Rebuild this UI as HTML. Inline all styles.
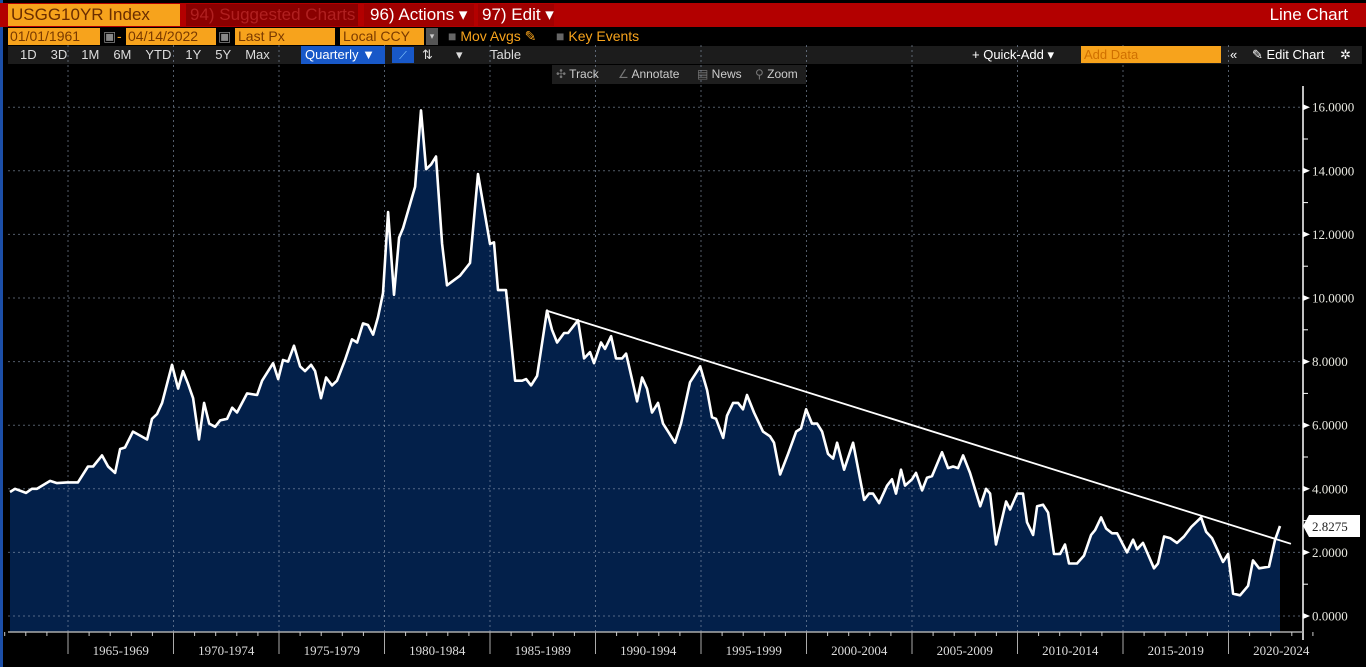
<!DOCTYPE html>
<html><head><meta charset="utf-8">
<style>
*{margin:0;padding:0;box-sizing:border-box}
body{width:1366px;height:667px;background:#000;overflow:hidden;font-family:"Liberation Sans",sans-serif;position:relative}
.abs{position:absolute;white-space:nowrap}
.bar1{left:0;top:3px;width:1366px;height:24px;background:#b30000}
.org{background:#f7a31c;color:#7a3a00}
.t1{font-size:17px;line-height:22px;color:#fff}
.t2{font-size:14px;line-height:17px}
.t3{font-size:13px;line-height:18px;color:#ddd}
</style></head><body>
<div class="abs" style="left:0;top:0;width:3px;height:667px;background:#1c4fa8"></div>
<div class="abs bar1"></div>
<div class="abs org t1" style="left:8px;top:4px;width:172px;height:22px;padding-left:3px;color:#6b2d00">USGG10YR Index</div>
<div class="abs t1" style="left:186px;top:4px;width:172px;height:22px;background:#8a0000;color:#b02020;padding-left:4px">94) Suggested Charts</div>
<div class="abs t1" style="left:364px;top:4px;width:110px;height:22px;background:#a00000;padding-left:6px">96) Actions ▾</div>
<div class="abs t1" style="left:478px;top:4px;width:76px;height:22px;background:#a00000;padding-left:4px">97) Edit ▾</div>
<div class="abs t1" style="right:18px;top:4px">Line Chart</div>

<div class="abs org t2" style="left:8px;top:28px;width:92px;height:17px;padding-left:2px">01/01/1961</div>
<div class="abs t2" style="left:103px;top:28px;color:#888">▣</div>
<div class="abs t2" style="left:117px;top:28px;color:#f7a31c">-</div>
<div class="abs org t2" style="left:126px;top:28px;width:90px;height:17px;padding-left:2px">04/14/2022</div>
<div class="abs t2" style="left:218px;top:28px;color:#888">▣</div>
<div class="abs org t2" style="left:235px;top:28px;width:100px;height:17px;padding-left:3px">Last Px</div>
<div class="abs org t2" style="left:340px;top:28px;width:84px;height:17px;padding-left:3px">Local CCY</div>
<div class="abs t2" style="left:426px;top:28px;width:12px;height:17px;background:#555;color:#ccc;font-size:9px;text-align:center">▾</div>
<div class="abs t2" style="left:448px;top:28px;color:#f7a31c"><span style="color:#666">■</span> Mov Avgs ✎</div>
<div class="abs t2" style="left:556px;top:28px;color:#f7a31c"><span style="color:#666">■</span> Key Events</div>

<div class="abs" style="left:8px;top:46px;width:1354px;height:18px;background:#1c1c1c"></div>
<div class="abs t3" style="left:20px;top:46px;word-spacing:0">
<span style="margin-right:14px">1D</span><span style="margin-right:14px">3D</span><span style="margin-right:14px">1M</span><span style="margin-right:14px">6M</span><span style="margin-right:14px">YTD</span><span style="margin-right:14px">1Y</span><span style="margin-right:14px">5Y</span><span>Max</span></div>
<div class="abs t3" style="left:301px;top:46px;width:84px;height:18px;background:#1858c8;color:#fff;padding-left:4px">Quarterly ▼</div>
<div class="abs t3" style="left:392px;top:47px;width:22px;height:16px;background:#1858c8;color:#8cf;text-align:center;font-size:11px">⟋</div>
<div class="abs t3" style="left:422px;top:46px">⇅</div>
<div class="abs t3" style="left:456px;top:46px">▾</div>
<div class="abs t3" style="left:490px;top:46px">Table</div>
<div class="abs t3" style="left:972px;top:46px;color:#fff">+ Quick-Add ▾</div>
<div class="abs t3" style="left:1081px;top:46px;width:140px;height:17px;background:#f7a31c;color:#d07000;padding-left:3px">Add Data</div>
<div class="abs t3" style="left:1230px;top:46px;color:#fff">«</div>
<div class="abs t3" style="left:1252px;top:46px;color:#fff">✎ Edit Chart</div>
<div class="abs t3" style="left:1340px;top:46px;color:#fff">✲</div>

<div class="abs" style="left:552px;top:65px;width:254px;height:19px;background:#1e1e1e"></div>
<div class="abs" style="left:556px;top:66px;font-size:12px;color:#ccc;line-height:17px"><span style="color:#777">✣</span> Track</div>
<div class="abs" style="left:618px;top:66px;font-size:12px;color:#ccc;line-height:17px"><span style="color:#777">∠</span> Annotate</div>
<div class="abs" style="left:697px;top:66px;font-size:12px;color:#ccc;line-height:17px"><span style="color:#777">▤</span> News</div>
<div class="abs" style="left:755px;top:66px;font-size:12px;color:#ccc;line-height:17px"><span style="color:#777">⚲</span> Zoom</div>

<svg class="abs" id="chart" style="left:0;top:0" width="1366" height="667"></svg>

<script>
const years=[1962.25,1962.49,1963.01,1963.29,1963.53,1964.15,1964.48,1964.95,1965.47,1965.95,1966.19,1966.61,1966.90,1967.23,1967.47,1967.70,1968.08,1968.75,1968.98,1969.22,1969.46,1969.93,1970.22,1970.45,1970.69,1970.93,1971.21,1971.45,1971.69,1971.97,1972.21,1972.54,1972.78,1973.01,1973.49,1973.96,1974.20,1974.72,1974.96,1975.19,1975.43,1975.71,1976.00,1976.23,1976.52,1976.71,1976.99,1977.23,1977.51,1977.75,1978.13,1978.46,1978.70,1978.98,1979.22,1979.46,1979.69,1979.93,1980.17,1980.45,1980.69,1980.88,1981.45,1981.73,1981.97,1982.21,1982.44,1982.73,1982.96,1983.58,1984.05,1984.43,1984.77,1985.00,1985.19,1985.38,1985.62,1985.76,1986.19,1986.52,1986.71,1986.95,1987.23,1987.70,1987.94,1988.18,1988.51,1988.70,1989.17,1989.46,1989.74,1989.93,1990.26,1990.45,1990.74,1990.97,1991.26,1991.45,1991.97,1992.21,1992.44,1992.68,1992.96,1993.20,1993.44,1993.77,1994.05,1994.48,1994.96,1995.29,1995.52,1995.71,1996.05,1996.23,1996.52,1996.76,1996.99,1997.18,1997.51,1997.94,1998.27,1998.46,1998.75,1999.13,1999.51,1999.74,1999.98,2000.26,2000.50,2000.74,2001.02,2001.26,2001.45,2001.78,2002.21,2002.73,2002.96,2003.15,2003.44,2003.82,2004.05,2004.24,2004.48,2004.67,2005.00,2005.19,2005.48,2005.71,2005.95,2006.42,2006.71,2006.95,2007.18,2007.42,2007.75,2008.23,2008.51,2008.70,2008.98,2009.46,2009.65,2009.98,2010.26,2010.45,2010.74,2010.93,2011.21,2011.45,2011.73,2012.02,2012.25,2012.44,2012.82,2013.15,2013.49,2013.68,2013.96,2014.20,2014.48,2014.72,2015.19,2015.48,2015.67,2015.95,2016.47,2016.66,2016.95,2017.23,2017.56,2017.89,2018.23,2018.70,2018.94,2019.22,2019.74,2019.98,2020.22,2020.55,2020.93,2021.16,2021.45,2021.92,2022.21,2022.44];
const yields=[3.9,4.0,3.87,4.0,4.0,4.25,4.18,4.2,4.2,4.7,4.7,5.05,4.7,4.5,5.25,5.3,5.8,5.55,6.2,6.35,6.7,7.9,7.15,7.7,7.3,6.85,5.55,6.7,6.05,5.95,6.15,6.2,6.55,6.4,7.0,6.95,7.4,7.95,7.45,8.05,8.0,8.5,7.85,7.7,7.9,7.7,6.85,7.5,7.25,7.4,8.05,8.7,8.6,9.2,9.15,8.85,9.4,10.15,12.7,10.1,11.9,12.2,13.5,15.9,14.05,14.2,14.45,11.7,10.4,10.7,11.1,13.9,12.6,11.7,11.75,10.25,10.25,10.25,7.4,7.4,7.45,7.25,7.55,9.6,9.0,8.6,8.9,8.9,9.3,8.1,8.3,7.95,8.6,8.4,8.8,8.1,8.1,8.25,6.75,7.5,7.15,6.4,6.7,6.05,5.8,5.45,6.05,7.35,7.85,7.1,6.25,6.2,5.6,6.3,6.7,6.7,6.5,6.95,6.4,5.8,5.65,5.45,4.45,5.1,5.8,5.9,6.5,6.05,6.05,5.8,5.1,4.95,5.45,4.6,5.45,3.65,3.85,3.85,3.55,4.1,4.3,3.85,4.6,4.1,4.3,4.5,3.95,4.35,4.4,5.15,4.65,4.7,4.65,5.05,4.5,3.45,4.0,3.85,2.25,3.6,3.35,3.85,3.85,2.95,2.55,3.45,3.5,3.25,1.95,1.95,2.25,1.65,1.65,1.9,2.55,2.7,3.1,2.75,2.6,2.6,2.0,2.4,2.1,2.3,1.5,1.65,2.5,2.45,2.3,2.5,2.8,3.1,2.65,2.45,1.7,1.95,0.7,0.65,0.95,1.75,1.5,1.55,2.4,2.83];
const trendYears=[1987.70,2022.96];
const trendValues=[9.6,2.27];
const yTicks=[0,2,4,6,8,10,12,14,16];
const xLabels=["1965-1969","1970-1974","1975-1979","1980-1984","1985-1989","1990-1994","1995-1999","2000-2004","2005-2009","2010-2014","2015-2019","2020-2024"];
const lastValueLabel="2.8275";

const NS="http://www.w3.org/2000/svg";
const svg=document.getElementById('chart');
const PL=8,PR=1303,PT=86,PB=632;
const xs=y=>68+(y-1965)*21.1;
const ys=v=>616-v*31.8;
function mk(tag,attrs,parent){const e=document.createElementNS(NS,tag);for(const k in attrs)e.setAttribute(k,attrs[k]);(parent||svg).appendChild(e);return e;}

// fill area
let d='M'+xs(years[0])+','+PB;
years.forEach((y,i)=>{d+=' L'+xs(y).toFixed(1)+','+ys(yields[i]).toFixed(1);});
d+=' L'+xs(years[years.length-1]).toFixed(1)+','+PB+' Z';
const area=mk('path',{d:d,fill:'#03204a'});



// grid
yTicks.forEach(v=>{
  const g=mk('line',{x1:PL,x2:PR,y1:ys(v),y2:ys(v),stroke:'#8a9ab0','stroke-width':1,'stroke-dasharray':'2,3',opacity:0.6});
  
  
});
for(let i=0;i<xLabels.length;i++){
  const x=xs(1965+5*i);
  const g=mk('line',{x1:x,x2:x,y1:45,y2:PB,stroke:'#8a9ab0','stroke-width':1,'stroke-dasharray':'2,3',opacity:0.6});
  
  
}
// redraw top bars over grid lines
mk('rect',{x:0,y:0,width:1366,height:46,fill:'none'});

// series line
let ld='';
years.forEach((y,i)=>{ld+=(i?' L':'M')+xs(y).toFixed(1)+','+ys(yields[i]).toFixed(1);});
const line=mk('path',{d:ld,fill:'none',stroke:'#fff','stroke-width':2.6,'stroke-linejoin':'round'});



// trendline
const tl=mk('line',{x1:xs(trendYears[0]),y1:ys(trendValues[0]),x2:xs(trendYears[1]),y2:ys(trendValues[1]),stroke:'#fff','stroke-width':1.8});



// y axis
const ax=mk('line',{x1:PR,x2:PR,y1:86,y2:640,stroke:'#fff','stroke-width':1.5});


yTicks.forEach(v=>{
  const y=ys(v);
  mk('path',{d:`M${PR},${y-3} L${PR+7},${y} L${PR},${y+3} Z`,fill:'#fff'});
  const t=mk('text',{x:PR+9,y:y+4.5,fill:'#e8e8e0','font-size':13,'font-family':'Liberation Serif, serif'});
  t.textContent=v.toFixed(4);
  
  
  if(v<16) mk('line',{x1:PR,x2:PR+5,y1:ys(v+1),y2:ys(v+1),stroke:'#fff','stroke-width':1});
});

// x axis
const xa=mk('line',{x1:PL,x2:PR,y1:PB,y2:PB,stroke:'#aaa','stroke-width':1.5});


for(let yr=1962;yr<=2024;yr++){
  mk('line',{x1:xs(yr),x2:xs(yr),y1:PB,y2:PB+4,stroke:'#ccc','stroke-width':1});
}
xLabels.forEach((l,i)=>{
  const x0=xs(1965+5*i);
  mk('line',{x1:x0,x2:x0,y1:PB,y2:PB+22,stroke:'#aaa','stroke-width':1});
  const t=mk('text',{x:x0+52.75,y:655,fill:'#ddd','font-size':13,'font-family':'Liberation Serif, serif','text-anchor':'middle'});
  t.textContent=l;
  
  
});

// last value tag
const ly=ys(yields[yields.length-1]);
const tag=mk('path',{d:`M${PR},${ly} L${PR+6},${ly-11} L${PR+57},${ly-11} L${PR+57},${ly+11} L${PR+6},${ly+11} Z`,fill:'#fff'});


const lt=mk('text',{x:PR+9,y:ly+5,fill:'#222','font-size':13,'font-family':'Liberation Serif, serif'});
lt.textContent=lastValueLabel;


</script>
<style>#chart{z-index:0}.bar1,.org,.t1,.t2,.t3{z-index:1}</style>
</body></html>
